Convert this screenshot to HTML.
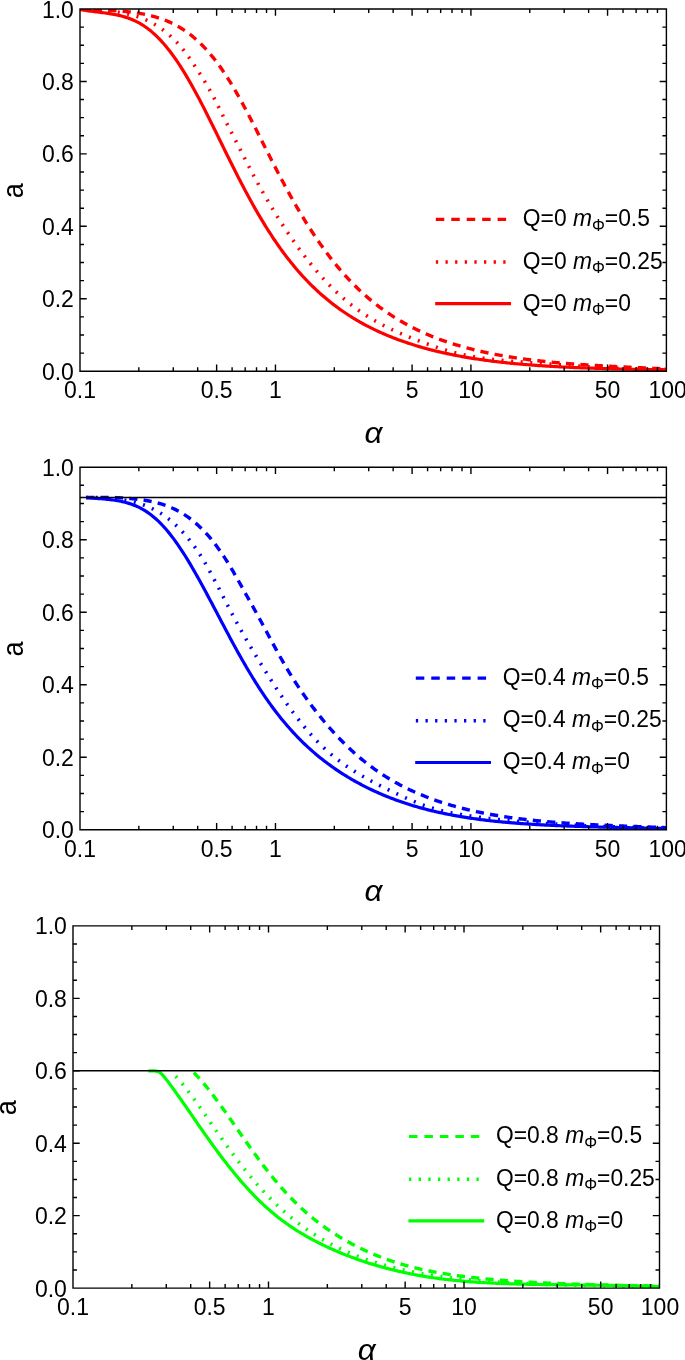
<!DOCTYPE html>
<html lang="en"><head><meta charset="utf-8"><title>a vs alpha</title>
<style>
html,body{margin:0;padding:0;background:#fff;}
body{width:685px;height:1360px;overflow:hidden;}
svg{display:block;filter:blur(0.35px);}
text{font-family:"Liberation Sans",sans-serif;fill:#000;}
</style></head><body>
<svg width="685" height="1360" viewBox="0 0 685 1360">
<rect width="685" height="1360" fill="#fff"/>
<clipPath id="c0"><rect x="80" y="9" width="586.4" height="362.2"/></clipPath>
<g fill="none" stroke="#ff0000" stroke-linejoin="round" clip-path="url(#c0)">
<path d="M79.5 9 L81 9.01 L82.5 9.05 L84 9.09 L85.5 9.14 L87 9.19 L88.5 9.24 L90 9.29 L91.5 9.34 L93 9.4 L94.5 9.45 L96 9.51 L97.5 9.57 L99 9.64 L100.5 9.71 L102 9.78 L103.5 9.85 L105 9.93 L106.5 10.01 L108 10.09 L109.5 10.18 L111 10.28 L112.5 10.37 L114 10.48 L115.5 10.59 L117 10.7 L118.5 10.82 L120 10.95 L121.5 11.08 L123 11.22 L124.5 11.37 L126 11.52 L127.5 11.69 L129 11.86 L130.5 12.04 L132 12.24 L133.5 12.44 L135 12.65 L136.5 12.88 L138 13.11 L139.5 13.36 L141 13.62 L142.5 13.9 L144 14.19 L145.5 14.5 L147 14.82 L148.5 15.16 L150 15.51 L151.5 15.88 L153 16.28 L154.5 16.69 L156 17.12 L157.5 17.57 L159 18.05 L160.5 18.55 L162 19.07 L163.5 19.62 L165 20.19 L166.5 20.79 L168 21.42 L169.5 22.07 L171 22.76 L172.5 23.47 L174 24.22 L175.5 25 L177 25.81 L178.5 26.65 L180 27.54 L181.5 28.45 L183 29.41 L184.5 30.4 L186 31.43 L187.5 32.5 L189 33.61 L190.5 34.76 L192 35.95 L193.5 37.19 L195 38.47 L196.5 39.79 L198 41.16 L199.5 42.57 L201 44.03 L202.5 45.53 L204 47.09 L205.5 48.68 L207 50.33 L208.5 52.02 L210 53.77 L211.5 55.56 L213 57.4 L214.5 59.29 L216 61.23 L217.5 63.23 L219 65.27 L220.5 67.36 L222 69.51 L223.5 71.7 L225 73.94 L226.5 76.24 L228 78.58 L229.5 80.97 L231 83.4 L232.5 85.89 L234 88.42 L235.5 90.99 L237 93.6 L238.5 96.25 L240 98.94 L241.5 101.66 L243 104.42 L244.5 107.2 L246 110.02 L247.5 112.86 L249 115.72 L250.5 118.61 L252 121.52 L253.5 124.44 L255 127.38 L256.5 130.32 L258 133.28 L259.5 136.25 L261 139.22 L262.5 142.2 L264 145.17 L265.5 148.14 L267 151.11 L268.5 154.08 L270 157.04 L271.5 159.99 L273 162.93 L274.5 165.86 L276 168.77 L277.5 171.67 L279 174.55 L280.5 177.41 L282 180.25 L283.5 183.06 L285 185.86 L286.5 188.63 L288 191.38 L289.5 194.11 L291 196.8 L292.5 199.48 L294 202.12 L295.5 204.74 L297 207.33 L298.5 209.9 L300 212.43 L301.5 214.94 L303 217.42 L304.5 219.88 L306 222.3 L307.5 224.7 L309 227.07 L310.5 229.41 L312 231.72 L313.5 234 L315 236.26 L316.5 238.49 L318 240.68 L319.5 242.85 L321 244.99 L322.5 247.1 L324 249.18 L325.5 251.23 L327 253.26 L328.5 255.25 L330 257.21 L331.5 259.15 L333 261.05 L334.5 262.93 L336 264.78 L337.5 266.6 L339 268.39 L340.5 270.15 L342 271.89 L343.5 273.59 L345 275.27 L346.5 276.93 L348 278.55 L349.5 280.15 L351 281.72 L352.5 283.27 L354 284.79 L355.5 286.29 L357 287.76 L358.5 289.2 L360 290.62 L361.5 292.02 L363 293.39 L364.5 294.74 L366 296.07 L367.5 297.37 L369 298.65 L370.5 299.91 L372 301.15 L373.5 302.36 L375 303.56 L376.5 304.73 L378 305.89 L379.5 307.02 L381 308.13 L382.5 309.23 L384 310.3 L385.5 311.36 L387 312.4 L388.5 313.42 L390 314.42 L391.5 315.41 L393 316.37 L394.5 317.32 L396 318.26 L397.5 319.18 L399 320.08 L400.5 320.96 L402 321.83 L403.5 322.69 L405 323.53 L406.5 324.35 L408 325.16 L409.5 325.96 L411 326.74 L412.5 327.51 L414 328.26 L415.5 329.01 L417 329.73 L418.5 330.45 L420 331.15 L421.5 331.84 L423 332.52 L424.5 333.19 L426 333.84 L427.5 334.48 L429 335.12 L430.5 335.74 L432 336.35 L433.5 336.95 L435 337.54 L436.5 338.11 L438 338.68 L439.5 339.24 L441 339.79 L442.5 340.33 L444 340.86 L445.5 341.38 L447 341.89 L448.5 342.4 L450 342.89 L451.5 343.38 L453 343.85 L454.5 344.32 L456 344.78 L457.5 345.24 L459 345.68 L460.5 346.12 L462 346.55 L463.5 346.97 L465 347.39 L466.5 347.79 L468 348.19 L469.5 348.59 L471 348.97 L472.5 349.35 L474 349.73 L475.5 350.09 L477 350.46 L478.5 350.81 L480 351.16 L481.5 351.5 L483 351.84 L484.5 352.17 L486 352.49 L487.5 352.81 L489 353.12 L490.5 353.43 L492 353.73 L493.5 354.03 L495 354.32 L496.5 354.6 L498 354.88 L499.5 355.16 L501 355.43 L502.5 355.7 L504 355.96 L505.5 356.21 L507 356.47 L508.5 356.71 L510 356.96 L511.5 357.19 L513 357.43 L514.5 357.66 L516 357.88 L517.5 358.1 L519 358.32 L520.5 358.54 L522 358.74 L523.5 358.95 L525 359.15 L526.5 359.35 L528 359.54 L529.5 359.74 L531 359.92 L532.5 360.11 L534 360.29 L535.5 360.46 L537 360.64 L538.5 360.81 L540 360.98 L541.5 361.14 L543 361.3 L544.5 361.46 L546 361.62 L547.5 361.77 L549 361.92 L550.5 362.07 L552 362.21 L553.5 362.35 L555 362.49 L556.5 362.63 L558 362.76 L559.5 362.89 L561 363.02 L562.5 363.15 L564 363.27 L565.5 363.4 L567 363.52 L568.5 363.64 L570 363.75 L571.5 363.87 L573 363.98 L574.5 364.09 L576 364.2 L577.5 364.31 L579 364.41 L580.5 364.51 L582 364.62 L583.5 364.72 L585 364.81 L586.5 364.91 L588 365.01 L589.5 365.1 L591 365.19 L592.5 365.29 L594 365.38 L595.5 365.47 L597 365.55 L598.5 365.64 L600 365.73 L601.5 365.81 L603 365.89 L604.5 365.98 L606 366.06 L607.5 366.14 L609 366.22 L610.5 366.3 L612 366.37 L613.5 366.45 L615 366.53 L616.5 366.6 L618 366.68 L619.5 366.75 L621 366.83 L622.5 366.9 L624 366.97 L625.5 367.05 L627 367.12 L628.5 367.19 L630 367.26 L631.5 367.33 L633 367.4 L634.5 367.47 L636 367.54 L637.5 367.61 L639 367.68 L640.5 367.75 L642 367.82 L643.5 367.89 L645 367.96 L646.5 368.02 L648 368.09 L649.5 368.16 L651 368.23 L652.5 368.3 L654 368.37 L655.5 368.43 L657 368.5 L658.5 368.57 L660 368.64 L661.5 368.71 L663 368.78 L664.5 368.85 L666 368.91 L666.4 368.93" stroke-width="3.4" stroke-dasharray="8.2 6.2"/>
<path d="M79.5 9.23 L81 9.28 L82.5 9.34 L84 9.39 L85.5 9.45 L87 9.52 L88.5 9.58 L90 9.65 L91.5 9.73 L93 9.81 L94.5 9.89 L96 9.98 L97.5 10.07 L99 10.17 L100.5 10.28 L102 10.39 L103.5 10.51 L105 10.64 L106.5 10.77 L108 10.92 L109.5 11.07 L111 11.24 L112.5 11.41 L114 11.6 L115.5 11.8 L117 12.01 L118.5 12.23 L120 12.47 L121.5 12.73 L123 13 L124.5 13.29 L126 13.6 L127.5 13.92 L129 14.27 L130.5 14.64 L132 15.03 L133.5 15.44 L135 15.88 L136.5 16.34 L138 16.83 L139.5 17.34 L141 17.89 L142.5 18.47 L144 19.07 L145.5 19.71 L147 20.38 L148.5 21.09 L150 21.83 L151.5 22.61 L153 23.43 L154.5 24.28 L156 25.18 L157.5 26.11 L159 27.09 L160.5 28.11 L162 29.18 L163.5 30.29 L165 31.44 L166.5 32.65 L168 33.9 L169.5 35.2 L171 36.55 L172.5 37.96 L174 39.42 L175.5 40.95 L177 42.53 L178.5 44.17 L180 45.88 L181.5 47.65 L183 49.49 L184.5 51.4 L186 53.37 L187.5 55.41 L189 57.5 L190.5 59.65 L192 61.83 L193.5 64.05 L195 66.29 L196.5 68.55 L198 70.83 L199.5 73.14 L201 75.47 L202.5 77.84 L204 80.26 L205.5 82.73 L207 85.26 L208.5 87.85 L210 90.52 L211.5 93.26 L213 96.07 L214.5 98.95 L216 101.89 L217.5 104.86 L219 107.85 L220.5 110.86 L222 113.87 L223.5 116.87 L225 119.84 L226.5 122.79 L228 125.72 L229.5 128.64 L231 131.55 L232.5 134.46 L234 137.37 L235.5 140.29 L237 143.21 L238.5 146.16 L240 149.12 L241.5 152.08 L243 155.04 L244.5 157.99 L246 160.93 L247.5 163.85 L249 166.74 L250.5 169.61 L252 172.46 L253.5 175.28 L255 178.08 L256.5 180.85 L258 183.59 L259.5 186.31 L261 189 L262.5 191.67 L264 194.31 L265.5 196.92 L267 199.5 L268.5 202.06 L270 204.59 L271.5 207.09 L273 209.57 L274.5 212.02 L276 214.44 L277.5 216.84 L279 219.22 L280.5 221.56 L282 223.89 L283.5 226.19 L285 228.46 L286.5 230.72 L288 232.95 L289.5 235.16 L291 237.35 L292.5 239.51 L294 241.66 L295.5 243.78 L297 245.88 L298.5 247.96 L300 250.01 L301.5 252.04 L303 254.04 L304.5 256.02 L306 257.97 L307.5 259.9 L309 261.81 L310.5 263.68 L312 265.53 L313.5 267.36 L315 269.16 L316.5 270.93 L318 272.67 L319.5 274.39 L321 276.09 L322.5 277.76 L324 279.4 L325.5 281.01 L327 282.6 L328.5 284.17 L330 285.71 L331.5 287.22 L333 288.71 L334.5 290.18 L336 291.62 L337.5 293.03 L339 294.42 L340.5 295.79 L342 297.13 L343.5 298.44 L345 299.73 L346.5 301 L348 302.24 L349.5 303.46 L351 304.66 L352.5 305.83 L354 306.97 L355.5 308.1 L357 309.2 L358.5 310.28 L360 311.33 L361.5 312.37 L363 313.38 L364.5 314.38 L366 315.35 L367.5 316.31 L369 317.24 L370.5 318.16 L372 319.06 L373.5 319.95 L375 320.81 L376.5 321.66 L378 322.5 L379.5 323.32 L381 324.12 L382.5 324.91 L384 325.69 L385.5 326.46 L387 327.21 L388.5 327.95 L390 328.67 L391.5 329.39 L393 330.09 L394.5 330.78 L396 331.47 L397.5 332.14 L399 332.81 L400.5 333.46 L402 334.11 L403.5 334.74 L405 335.37 L406.5 336 L408 336.61 L409.5 337.22 L411 337.82 L412.5 338.41 L414 339 L415.5 339.58 L417 340.16 L418.5 340.73 L420 341.3 L421.5 341.86 L423 342.41 L424.5 342.97 L426 343.51 L427.5 344.06 L429 344.59 L430.5 345.12 L432 345.64 L433.5 346.16 L435 346.67 L436.5 347.18 L438 347.67 L439.5 348.16 L441 348.64 L442.5 349.11 L444 349.58 L445.5 350.04 L447 350.48 L448.5 350.92 L450 351.35 L451.5 351.77 L453 352.18 L454.5 352.58 L456 352.97 L457.5 353.35 L459 353.72 L460.5 354.08 L462 354.42 L463.5 354.76 L465 355.08 L466.5 355.39 L468 355.7 L469.5 355.99 L471 356.27 L472.5 356.54 L474 356.8 L475.5 357.06 L477 357.3 L478.5 357.54 L480 357.77 L481.5 357.99 L483 358.2 L484.5 358.41 L486 358.61 L487.5 358.8 L489 358.98 L490.5 359.16 L492 359.34 L493.5 359.5 L495 359.67 L496.5 359.82 L498 359.98 L499.5 360.13 L501 360.27 L502.5 360.41 L504 360.55 L505.5 360.68 L507 360.81 L508.5 360.94 L510 361.06 L511.5 361.18 L513 361.31 L514.5 361.42 L516 361.54 L517.5 361.66 L519 361.77 L520.5 361.89 L522 362 L523.5 362.11 L525 362.23 L526.5 362.34 L528 362.45 L529.5 362.57 L531 362.68 L532.5 362.79 L534 362.91 L535.5 363.02 L537 363.13 L538.5 363.25 L540 363.36 L541.5 363.47 L543 363.58 L544.5 363.69 L546 363.81 L547.5 363.92 L549 364.03 L550.5 364.14 L552 364.25 L553.5 364.36 L555 364.47 L556.5 364.58 L558 364.69 L559.5 364.79 L561 364.9 L562.5 365.01 L564 365.12 L565.5 365.22 L567 365.33 L568.5 365.44 L570 365.54 L571.5 365.64 L573 365.75 L574.5 365.85 L576 365.95 L577.5 366.05 L579 366.15 L580.5 366.25 L582 366.35 L583.5 366.45 L585 366.55 L586.5 366.64 L588 366.74 L589.5 366.83 L591 366.92 L592.5 367.02 L594 367.11 L595.5 367.2 L597 367.29 L598.5 367.37 L600 367.46 L601.5 367.54 L603 367.63 L604.5 367.71 L606 367.79 L607.5 367.87 L609 367.94 L610.5 368.02 L612 368.09 L613.5 368.17 L615 368.24 L616.5 368.31 L618 368.37 L619.5 368.44 L621 368.5 L622.5 368.56 L624 368.62 L625.5 368.68 L627 368.74 L628.5 368.79 L630 368.84 L631.5 368.89 L633 368.94 L634.5 368.98 L636 369.02 L637.5 369.06 L639 369.1 L640.5 369.13 L642 369.17 L643.5 369.2 L645 369.22 L646.5 369.25 L648 369.27 L649.5 369.29 L651 369.31 L652.5 369.32 L654 369.33 L655.5 369.34 L657 369.34 L658.5 369.34 L660 369.34 L661.5 369.34 L663 369.34 L664.5 369.34 L666 369.34 L666.4 369.34" stroke-width="3.6" stroke-dasharray="2.0 7.6"/>
<path d="M79.5 9.39 L81 9.66 L82.5 9.92 L84 10.17 L85.5 10.4 L87 10.62 L88.5 10.84 L90 11.05 L91.5 11.25 L93 11.44 L94.5 11.63 L96 11.82 L97.5 12.01 L99 12.19 L100.5 12.38 L102 12.57 L103.5 12.77 L105 12.97 L106.5 13.18 L108 13.4 L109.5 13.63 L111 13.87 L112.5 14.12 L114 14.39 L115.5 14.68 L117 14.99 L118.5 15.32 L120 15.67 L121.5 16.05 L123 16.45 L124.5 16.88 L126 17.35 L127.5 17.84 L129 18.37 L130.5 18.93 L132 19.54 L133.5 20.18 L135 20.86 L136.5 21.59 L138 22.37 L139.5 23.19 L141 24.06 L142.5 24.98 L144 25.95 L145.5 26.97 L147 28.05 L148.5 29.18 L150 30.36 L151.5 31.59 L153 32.88 L154.5 34.23 L156 35.63 L157.5 37.09 L159 38.6 L160.5 40.18 L162 41.8 L163.5 43.49 L165 45.23 L166.5 47.03 L168 48.89 L169.5 50.8 L171 52.77 L172.5 54.79 L174 56.87 L175.5 59 L177 61.19 L178.5 63.43 L180 65.72 L181.5 68.06 L183 70.45 L184.5 72.88 L186 75.37 L187.5 77.9 L189 80.48 L190.5 83.1 L192 85.76 L193.5 88.45 L195 91.19 L196.5 93.96 L198 96.77 L199.5 99.61 L201 102.48 L202.5 105.37 L204 108.29 L205.5 111.24 L207 114.21 L208.5 117.19 L210 120.19 L211.5 123.21 L213 126.24 L214.5 129.28 L216 132.33 L217.5 135.38 L219 138.44 L220.5 141.5 L222 144.56 L223.5 147.62 L225 150.67 L226.5 153.72 L228 156.75 L229.5 159.78 L231 162.8 L232.5 165.81 L234 168.8 L235.5 171.77 L237 174.72 L238.5 177.66 L240 180.58 L241.5 183.47 L243 186.34 L244.5 189.19 L246 192.01 L247.5 194.81 L249 197.58 L250.5 200.32 L252 203.04 L253.5 205.72 L255 208.38 L256.5 211 L258 213.59 L259.5 216.16 L261 218.69 L262.5 221.19 L264 223.65 L265.5 226.09 L267 228.49 L268.5 230.86 L270 233.19 L271.5 235.49 L273 237.76 L274.5 240 L276 242.21 L277.5 244.38 L279 246.51 L280.5 248.62 L282 250.69 L283.5 252.73 L285 254.74 L286.5 256.72 L288 258.67 L289.5 260.58 L291 262.46 L292.5 264.32 L294 266.14 L295.5 267.93 L297 269.7 L298.5 271.43 L300 273.14 L301.5 274.81 L303 276.46 L304.5 278.08 L306 279.68 L307.5 281.24 L309 282.78 L310.5 284.3 L312 285.78 L313.5 287.25 L315 288.68 L316.5 290.1 L318 291.49 L319.5 292.85 L321 294.19 L322.5 295.51 L324 296.81 L325.5 298.08 L327 299.33 L328.5 300.56 L330 301.77 L331.5 302.96 L333 304.13 L334.5 305.28 L336 306.4 L337.5 307.51 L339 308.6 L340.5 309.68 L342 310.73 L343.5 311.76 L345 312.78 L346.5 313.78 L348 314.76 L349.5 315.73 L351 316.68 L352.5 317.62 L354 318.53 L355.5 319.44 L357 320.32 L358.5 321.2 L360 322.05 L361.5 322.9 L363 323.73 L364.5 324.54 L366 325.34 L367.5 326.13 L369 326.91 L370.5 327.67 L372 328.42 L373.5 329.15 L375 329.88 L376.5 330.59 L378 331.29 L379.5 331.98 L381 332.66 L382.5 333.33 L384 333.98 L385.5 334.63 L387 335.26 L388.5 335.88 L390 336.5 L391.5 337.1 L393 337.69 L394.5 338.27 L396 338.85 L397.5 339.41 L399 339.97 L400.5 340.51 L402 341.05 L403.5 341.58 L405 342.1 L406.5 342.61 L408 343.11 L409.5 343.6 L411 344.09 L412.5 344.57 L414 345.04 L415.5 345.5 L417 345.95 L418.5 346.4 L420 346.84 L421.5 347.27 L423 347.7 L424.5 348.11 L426 348.52 L427.5 348.93 L429 349.33 L430.5 349.72 L432 350.1 L433.5 350.48 L435 350.85 L436.5 351.22 L438 351.57 L439.5 351.93 L441 352.27 L442.5 352.62 L444 352.95 L445.5 353.28 L447 353.61 L448.5 353.92 L450 354.24 L451.5 354.55 L453 354.85 L454.5 355.15 L456 355.44 L457.5 355.72 L459 356.01 L460.5 356.28 L462 356.56 L463.5 356.83 L465 357.09 L466.5 357.35 L468 357.6 L469.5 357.85 L471 358.1 L472.5 358.34 L474 358.57 L475.5 358.81 L477 359.04 L478.5 359.26 L480 359.48 L481.5 359.7 L483 359.91 L484.5 360.12 L486 360.32 L487.5 360.52 L489 360.72 L490.5 360.92 L492 361.11 L493.5 361.29 L495 361.48 L496.5 361.66 L498 361.83 L499.5 362.01 L501 362.18 L502.5 362.35 L504 362.51 L505.5 362.67 L507 362.83 L508.5 362.99 L510 363.14 L511.5 363.29 L513 363.43 L514.5 363.58 L516 363.72 L517.5 363.86 L519 363.99 L520.5 364.13 L522 364.26 L523.5 364.39 L525 364.51 L526.5 364.64 L528 364.76 L529.5 364.88 L531 364.99 L532.5 365.11 L534 365.22 L535.5 365.33 L537 365.44 L538.5 365.54 L540 365.65 L541.5 365.75 L543 365.85 L544.5 365.95 L546 366.04 L547.5 366.14 L549 366.23 L550.5 366.32 L552 366.41 L553.5 366.49 L555 366.58 L556.5 366.66 L558 366.74 L559.5 366.82 L561 366.9 L562.5 366.98 L564 367.05 L565.5 367.13 L567 367.2 L568.5 367.27 L570 367.34 L571.5 367.41 L573 367.47 L574.5 367.54 L576 367.6 L577.5 367.66 L579 367.73 L580.5 367.79 L582 367.85 L583.5 367.9 L585 367.96 L586.5 368.01 L588 368.07 L589.5 368.12 L591 368.17 L592.5 368.22 L594 368.27 L595.5 368.32 L597 368.37 L598.5 368.42 L600 368.46 L601.5 368.51 L603 368.55 L604.5 368.6 L606 368.64 L607.5 368.68 L609 368.72 L610.5 368.76 L612 368.8 L613.5 368.83 L615 368.87 L616.5 368.91 L618 368.94 L619.5 368.98 L621 369.01 L622.5 369.05 L624 369.08 L625.5 369.11 L627 369.14 L628.5 369.17 L630 369.2 L631.5 369.23 L633 369.26 L634.5 369.29 L636 369.31 L637.5 369.34 L639 369.37 L640.5 369.39 L642 369.42 L643.5 369.44 L645 369.46 L646.5 369.49 L648 369.51 L649.5 369.53 L651 369.55 L652.5 369.58 L654 369.6 L655.5 369.62 L657 369.64 L658.5 369.65 L660 369.67 L661.5 369.69 L663 369.71 L664.5 369.73 L666 369.74 L666.4 369.75" stroke-width="3.2"/>
</g>
<path d="M80 9H666.4V371.2H80ZM80 371.2h6.7M666.4 371.2h-6.7M80 353.09h4M666.4 353.09h-4M80 334.98h4M666.4 334.98h-4M80 316.87h4M666.4 316.87h-4M80 298.76h6.7M666.4 298.76h-6.7M80 280.65h4M666.4 280.65h-4M80 262.54h4M666.4 262.54h-4M80 244.43h4M666.4 244.43h-4M80 226.32h6.7M666.4 226.32h-6.7M80 208.21h4M666.4 208.21h-4M80 190.1h4M666.4 190.1h-4M80 171.99h4M666.4 171.99h-4M80 153.88h6.7M666.4 153.88h-6.7M80 135.77h4M666.4 135.77h-4M80 117.66h4M666.4 117.66h-4M80 99.55h4M666.4 99.55h-4M80 81.44h6.7M666.4 81.44h-6.7M80 63.33h4M666.4 63.33h-4M80 45.22h4M666.4 45.22h-4M80 27.11h4M666.4 27.11h-4M80 9h6.7M666.4 9h-6.7M80 371.2v-6.7M80 9v6.7M138.84 371.2v-4M138.84 9v4M173.26 371.2v-4M173.26 9v4M197.68 371.2v-4M197.68 9v4M216.63 371.2v-6.7M216.63 9v6.7M232.1 371.2v-4M232.1 9v4M245.19 371.2v-4M245.19 9v4M256.52 371.2v-4M256.52 9v4M266.52 371.2v-4M266.52 9v4M275.47 371.2v-6.7M275.47 9v6.7M334.31 371.2v-4M334.31 9v4M368.73 371.2v-4M368.73 9v4M393.15 371.2v-4M393.15 9v4M412.09 371.2v-6.7M412.09 9v6.7M427.57 371.2v-4M427.57 9v4M440.66 371.2v-4M440.66 9v4M451.99 371.2v-4M451.99 9v4M461.99 371.2v-4M461.99 9v4M470.93 371.2v-6.7M470.93 9v6.7M529.77 371.2v-4M529.77 9v4M564.19 371.2v-4M564.19 9v4M588.62 371.2v-4M588.62 9v4M607.56 371.2v-6.7M607.56 9v6.7M623.04 371.2v-4M623.04 9v4M636.12 371.2v-4M636.12 9v4M647.46 371.2v-4M647.46 9v4M657.46 371.2v-4M657.46 9v4" fill="none" stroke="#000" stroke-width="1.4"/>
<text transform="translate(73.9 379.7) scale(0.975 1)" text-anchor="end" font-size="23.6">0.0</text>
<text transform="translate(73.9 307.26) scale(0.975 1)" text-anchor="end" font-size="23.6">0.2</text>
<text transform="translate(73.9 234.82) scale(0.975 1)" text-anchor="end" font-size="23.6">0.4</text>
<text transform="translate(73.9 162.38) scale(0.975 1)" text-anchor="end" font-size="23.6">0.6</text>
<text transform="translate(73.9 89.94) scale(0.975 1)" text-anchor="end" font-size="23.6">0.8</text>
<text transform="translate(73.9 17.5) scale(0.975 1)" text-anchor="end" font-size="23.6">1.0</text>
<text transform="translate(80 398.2) scale(0.975 1)" text-anchor="middle" font-size="23.6">0.1</text>
<text transform="translate(216.63 398.2) scale(0.975 1)" text-anchor="middle" font-size="23.6">0.5</text>
<text transform="translate(275.47 398.2) scale(0.975 1)" text-anchor="middle" font-size="23.6">1</text>
<text transform="translate(412.09 398.2) scale(0.975 1)" text-anchor="middle" font-size="23.6">5</text>
<text transform="translate(470.93 398.2) scale(0.975 1)" text-anchor="middle" font-size="23.6">10</text>
<text transform="translate(607.56 398.2) scale(0.975 1)" text-anchor="middle" font-size="23.6">50</text>
<text transform="translate(667.6 398.2) scale(0.975 1)" text-anchor="middle" font-size="23.6">100</text>
<text transform="translate(22.6 190.7) rotate(-90) scale(0.9 1)" text-anchor="middle" font-size="30.2">a</text>
<text transform="translate(373.6 442.7) scale(1.05 1)" text-anchor="middle" font-size="30" font-style="italic">α</text>
<line x1="435.8" y1="219.3" x2="506.3" y2="219.3" stroke="#ff0000" stroke-width="3.2" stroke-dasharray="8.5 6.95"/>
<text transform="translate(522.8 225.9) scale(0.972 1)" text-anchor="start" font-size="23.5">Q=0 <tspan font-style="italic">m</tspan><tspan font-size="16.6" dy="4.6">Φ</tspan><tspan dy="-4.6">=0.5</tspan></text>
<line x1="435.85" y1="262" x2="507.8" y2="262" stroke="#ff0000" stroke-width="3.5" stroke-dasharray="2.3 7.33"/>
<text transform="translate(522.8 268.5) scale(0.972 1)" text-anchor="start" font-size="23.5">Q=0 <tspan font-style="italic">m</tspan><tspan font-size="16.6" dy="4.6">Φ</tspan><tspan dy="-4.6">=0.25</tspan></text>
<line x1="435.2" y1="303.7" x2="511" y2="303.7" stroke="#ff0000" stroke-width="3.2"/>
<text transform="translate(522.8 310.5) scale(0.972 1)" text-anchor="start" font-size="23.5">Q=0 <tspan font-style="italic">m</tspan><tspan font-size="16.6" dy="4.6">Φ</tspan><tspan dy="-4.6">=0</tspan></text>
<clipPath id="c04"><rect x="80" y="467.2" width="586.4" height="362.5"/></clipPath>
<g fill="none" stroke="#0000ff" stroke-linejoin="round" clip-path="url(#c04)">
<path d="M86.1 497.47 L87.6 497.47 L89.1 497.47 L90.6 497.47 L92.1 497.47 L93.6 497.47 L95.1 497.47 L96.6 497.47 L98.1 497.47 L99.6 497.47 L101.1 497.47 L102.6 497.47 L104.1 497.47 L105.6 497.47 L107.1 497.47 L108.6 497.47 L110.1 497.47 L111.6 497.47 L113.1 497.49 L114.6 497.55 L116.1 497.61 L117.6 497.68 L119.1 497.75 L120.6 497.83 L122.1 497.91 L123.6 498 L125.1 498.1 L126.6 498.21 L128.1 498.32 L129.6 498.44 L131.1 498.57 L132.6 498.71 L134.1 498.86 L135.6 499.02 L137.1 499.19 L138.6 499.37 L140.1 499.56 L141.6 499.76 L143.1 499.98 L144.6 500.21 L146.1 500.46 L147.6 500.72 L149.1 501 L150.6 501.3 L152.1 501.61 L153.6 501.95 L155.1 502.3 L156.6 502.67 L158.1 503.07 L159.6 503.49 L161.1 503.93 L162.6 504.4 L164.1 504.89 L165.6 505.41 L167.1 505.96 L168.6 506.53 L170.1 507.14 L171.6 507.78 L173.1 508.45 L174.6 509.15 L176.1 509.89 L177.6 510.67 L179.1 511.48 L180.6 512.32 L182.1 513.21 L183.6 514.14 L185.1 515.1 L186.6 516.11 L188.1 517.16 L189.6 518.25 L191.1 519.39 L192.6 520.57 L194.1 521.79 L195.6 523.06 L197.1 524.38 L198.6 525.75 L200.1 527.16 L201.6 528.62 L203.1 530.13 L204.6 531.69 L206.1 533.31 L207.6 534.98 L209.1 536.7 L210.6 538.47 L212.1 540.3 L213.6 542.18 L215.1 544.11 L216.6 546.1 L218.1 548.15 L219.6 550.24 L221.1 552.39 L222.6 554.6 L224.1 556.85 L225.6 559.16 L227.1 561.52 L228.6 563.94 L230.1 566.4 L231.6 568.91 L233.1 571.46 L234.6 574.05 L236.1 576.68 L237.6 579.33 L239.1 582 L240.6 584.68 L242.1 587.38 L243.6 590.08 L245.1 592.77 L246.6 595.46 L248.1 598.13 L249.6 600.8 L251.1 603.47 L252.6 606.14 L254.1 608.83 L255.6 611.52 L257.1 614.24 L258.6 616.97 L260.1 619.73 L261.6 622.51 L263.1 625.3 L264.6 628.1 L266.1 630.91 L267.6 633.71 L269.1 636.52 L270.6 639.32 L272.1 642.12 L273.6 644.9 L275.1 647.67 L276.6 650.42 L278.1 653.14 L279.6 655.85 L281.1 658.52 L282.6 661.16 L284.1 663.77 L285.6 666.35 L287.1 668.88 L288.6 671.38 L290.1 673.85 L291.6 676.28 L293.1 678.67 L294.6 681.03 L296.1 683.36 L297.6 685.65 L299.1 687.91 L300.6 690.14 L302.1 692.33 L303.6 694.5 L305.1 696.64 L306.6 698.75 L308.1 700.83 L309.6 702.88 L311.1 704.91 L312.6 706.91 L314.1 708.89 L315.6 710.84 L317.1 712.77 L318.6 714.67 L320.1 716.55 L321.6 718.4 L323.1 720.23 L324.6 722.03 L326.1 723.81 L327.6 725.57 L329.1 727.3 L330.6 729 L332.1 730.69 L333.6 732.35 L335.1 733.98 L336.6 735.59 L338.1 737.18 L339.6 738.74 L341.1 740.29 L342.6 741.8 L344.1 743.3 L345.6 744.78 L347.1 746.23 L348.6 747.66 L350.1 749.07 L351.6 750.45 L353.1 751.82 L354.6 753.16 L356.1 754.49 L357.6 755.79 L359.1 757.07 L360.6 758.34 L362.1 759.58 L363.6 760.8 L365.1 762 L366.6 763.19 L368.1 764.35 L369.6 765.5 L371.1 766.62 L372.6 767.73 L374.1 768.82 L375.6 769.89 L377.1 770.94 L378.6 771.97 L380.1 772.99 L381.6 773.99 L383.1 774.97 L384.6 775.93 L386.1 776.87 L387.6 777.8 L389.1 778.71 L390.6 779.61 L392.1 780.49 L393.6 781.36 L395.1 782.2 L396.6 783.04 L398.1 783.86 L399.6 784.66 L401.1 785.45 L402.6 786.23 L404.1 787 L405.6 787.75 L407.1 788.48 L408.6 789.21 L410.1 789.92 L411.6 790.62 L413.1 791.31 L414.6 791.98 L416.1 792.65 L417.6 793.3 L419.1 793.94 L420.6 794.57 L422.1 795.19 L423.6 795.8 L425.1 796.4 L426.6 796.99 L428.1 797.57 L429.6 798.13 L431.1 798.69 L432.6 799.24 L434.1 799.78 L435.6 800.31 L437.1 800.83 L438.6 801.34 L440.1 801.84 L441.6 802.33 L443.1 802.82 L444.6 803.29 L446.1 803.76 L447.6 804.22 L449.1 804.67 L450.6 805.12 L452.1 805.55 L453.6 805.98 L455.1 806.4 L456.6 806.81 L458.1 807.22 L459.6 807.62 L461.1 808.01 L462.6 808.39 L464.1 808.77 L465.6 809.14 L467.1 809.5 L468.6 809.86 L470.1 810.21 L471.6 810.55 L473.1 810.89 L474.6 811.22 L476.1 811.55 L477.6 811.87 L479.1 812.18 L480.6 812.49 L482.1 812.79 L483.6 813.09 L485.1 813.38 L486.6 813.67 L488.1 813.95 L489.6 814.22 L491.1 814.49 L492.6 814.76 L494.1 815.02 L495.6 815.27 L497.1 815.53 L498.6 815.77 L500.1 816.01 L501.6 816.25 L503.1 816.48 L504.6 816.71 L506.1 816.93 L507.6 817.15 L509.1 817.37 L510.6 817.58 L512.1 817.78 L513.6 817.99 L515.1 818.19 L516.6 818.38 L518.1 818.57 L519.6 818.76 L521.1 818.94 L522.6 819.13 L524.1 819.3 L525.6 819.48 L527.1 819.65 L528.6 819.81 L530.1 819.98 L531.6 820.14 L533.1 820.3 L534.6 820.45 L536.1 820.6 L537.6 820.75 L539.1 820.9 L540.6 821.04 L542.1 821.18 L543.6 821.32 L545.1 821.45 L546.6 821.58 L548.1 821.71 L549.6 821.84 L551.1 821.97 L552.6 822.09 L554.1 822.21 L555.6 822.33 L557.1 822.44 L558.6 822.56 L560.1 822.67 L561.6 822.78 L563.1 822.89 L564.6 822.99 L566.1 823.1 L567.6 823.2 L569.1 823.3 L570.6 823.4 L572.1 823.49 L573.6 823.59 L575.1 823.68 L576.6 823.77 L578.1 823.86 L579.6 823.95 L581.1 824.04 L582.6 824.12 L584.1 824.21 L585.6 824.29 L587.1 824.37 L588.6 824.45 L590.1 824.53 L591.6 824.61 L593.1 824.69 L594.6 824.76 L596.1 824.84 L597.6 824.91 L599.1 824.98 L600.6 825.05 L602.1 825.12 L603.6 825.19 L605.1 825.26 L606.6 825.33 L608.1 825.4 L609.6 825.46 L611.1 825.53 L612.6 825.59 L614.1 825.66 L615.6 825.72 L617.1 825.78 L618.6 825.85 L620.1 825.91 L621.6 825.97 L623.1 826.03 L624.6 826.09 L626.1 826.15 L627.6 826.21 L629.1 826.27 L630.6 826.33 L632.1 826.39 L633.6 826.44 L635.1 826.5 L636.6 826.56 L638.1 826.62 L639.6 826.67 L641.1 826.73 L642.6 826.78 L644.1 826.84 L645.6 826.9 L647.1 826.95 L648.6 827.01 L650.1 827.06 L651.6 827.12 L653.1 827.18 L654.6 827.23 L656.1 827.29 L657.6 827.34 L659.1 827.4 L660.6 827.45 L662.1 827.51 L663.6 827.57 L665.1 827.62 L666.4 827.67" stroke-width="3.4" stroke-dasharray="8.2 6.2"/>
<path d="M86.1 497.47 L87.6 497.47 L89.1 497.47 L90.6 497.47 L92.1 497.47 L93.6 497.47 L95.1 497.47 L96.6 497.51 L98.1 497.57 L99.6 497.63 L101.1 497.7 L102.6 497.78 L104.1 497.86 L105.6 497.96 L107.1 498.06 L108.6 498.17 L110.1 498.29 L111.6 498.43 L113.1 498.57 L114.6 498.73 L116.1 498.89 L117.6 499.07 L119.1 499.26 L120.6 499.47 L122.1 499.69 L123.6 499.92 L125.1 500.17 L126.6 500.44 L128.1 500.73 L129.6 501.03 L131.1 501.35 L132.6 501.7 L134.1 502.06 L135.6 502.45 L137.1 502.86 L138.6 503.3 L140.1 503.76 L141.6 504.25 L143.1 504.76 L144.6 505.31 L146.1 505.88 L147.6 506.49 L149.1 507.13 L150.6 507.8 L152.1 508.51 L153.6 509.25 L155.1 510.04 L156.6 510.85 L158.1 511.71 L159.6 512.61 L161.1 513.55 L162.6 514.54 L164.1 515.56 L165.6 516.64 L167.1 517.75 L168.6 518.91 L170.1 520.12 L171.6 521.38 L173.1 522.68 L174.6 524.03 L176.1 525.43 L177.6 526.88 L179.1 528.37 L180.6 529.92 L182.1 531.51 L183.6 533.15 L185.1 534.84 L186.6 536.57 L188.1 538.36 L189.6 540.19 L191.1 542.07 L192.6 544.01 L194.1 546.02 L195.6 548.1 L197.1 550.25 L198.6 552.47 L200.1 554.78 L201.6 557.17 L203.1 559.63 L204.6 562.15 L206.1 564.74 L207.6 567.38 L209.1 570.06 L210.6 572.79 L212.1 575.55 L213.6 578.34 L215.1 581.16 L216.6 584.01 L218.1 586.88 L219.6 589.76 L221.1 592.65 L222.6 595.56 L224.1 598.46 L225.6 601.37 L227.1 604.27 L228.6 607.16 L230.1 610.05 L231.6 612.91 L233.1 615.75 L234.6 618.57 L236.1 621.36 L237.6 624.12 L239.1 626.85 L240.6 629.55 L242.1 632.22 L243.6 634.86 L245.1 637.48 L246.6 640.08 L248.1 642.65 L249.6 645.2 L251.1 647.73 L252.6 650.24 L254.1 652.74 L255.6 655.22 L257.1 657.69 L258.6 660.15 L260.1 662.6 L261.6 665.04 L263.1 667.47 L264.6 669.89 L266.1 672.3 L267.6 674.69 L269.1 677.07 L270.6 679.44 L272.1 681.79 L273.6 684.12 L275.1 686.43 L276.6 688.72 L278.1 690.99 L279.6 693.24 L281.1 695.47 L282.6 697.68 L284.1 699.86 L285.6 702.02 L287.1 704.16 L288.6 706.27 L290.1 708.36 L291.6 710.42 L293.1 712.46 L294.6 714.47 L296.1 716.45 L297.6 718.4 L299.1 720.33 L300.6 722.23 L302.1 724.1 L303.6 725.94 L305.1 727.76 L306.6 729.54 L308.1 731.29 L309.6 733.02 L311.1 734.71 L312.6 736.38 L314.1 738.01 L315.6 739.61 L317.1 741.18 L318.6 742.72 L320.1 744.22 L321.6 745.7 L323.1 747.14 L324.6 748.55 L326.1 749.93 L327.6 751.28 L329.1 752.6 L330.6 753.9 L332.1 755.16 L333.6 756.4 L335.1 757.61 L336.6 758.8 L338.1 759.97 L339.6 761.11 L341.1 762.22 L342.6 763.32 L344.1 764.39 L345.6 765.45 L347.1 766.48 L348.6 767.5 L350.1 768.5 L351.6 769.48 L353.1 770.44 L354.6 771.39 L356.1 772.32 L357.6 773.24 L359.1 774.14 L360.6 775.03 L362.1 775.91 L363.6 776.78 L365.1 777.64 L366.6 778.48 L368.1 779.32 L369.6 780.14 L371.1 780.96 L372.6 781.76 L374.1 782.56 L375.6 783.35 L377.1 784.13 L378.6 784.9 L380.1 785.67 L381.6 786.43 L383.1 787.18 L384.6 787.92 L386.1 788.66 L387.6 789.4 L389.1 790.13 L390.6 790.85 L392.1 791.57 L393.6 792.28 L395.1 792.99 L396.6 793.7 L398.1 794.4 L399.6 795.1 L401.1 795.79 L402.6 796.48 L404.1 797.16 L405.6 797.83 L407.1 798.5 L408.6 799.16 L410.1 799.81 L411.6 800.45 L413.1 801.08 L414.6 801.7 L416.1 802.31 L417.6 802.91 L419.1 803.5 L420.6 804.08 L422.1 804.65 L423.6 805.2 L425.1 805.74 L426.6 806.26 L428.1 806.77 L429.6 807.27 L431.1 807.75 L432.6 808.21 L434.1 808.66 L435.6 809.09 L437.1 809.51 L438.6 809.91 L440.1 810.31 L441.6 810.68 L443.1 811.05 L444.6 811.4 L446.1 811.74 L447.6 812.07 L449.1 812.39 L450.6 812.7 L452.1 813 L453.6 813.28 L455.1 813.56 L456.6 813.84 L458.1 814.1 L459.6 814.36 L461.1 814.6 L462.6 814.85 L464.1 815.08 L465.6 815.31 L467.1 815.54 L468.6 815.76 L470.1 815.97 L471.6 816.19 L473.1 816.4 L474.6 816.6 L476.1 816.8 L477.6 817 L479.1 817.2 L480.6 817.39 L482.1 817.58 L483.6 817.76 L485.1 817.95 L486.6 818.13 L488.1 818.31 L489.6 818.48 L491.1 818.65 L492.6 818.82 L494.1 818.99 L495.6 819.15 L497.1 819.32 L498.6 819.47 L500.1 819.63 L501.6 819.79 L503.1 819.94 L504.6 820.09 L506.1 820.24 L507.6 820.38 L509.1 820.52 L510.6 820.66 L512.1 820.8 L513.6 820.94 L515.1 821.07 L516.6 821.21 L518.1 821.34 L519.6 821.47 L521.1 821.59 L522.6 821.72 L524.1 821.84 L525.6 821.96 L527.1 822.08 L528.6 822.2 L530.1 822.32 L531.6 822.43 L533.1 822.55 L534.6 822.66 L536.1 822.77 L537.6 822.88 L539.1 822.99 L540.6 823.09 L542.1 823.2 L543.6 823.3 L545.1 823.4 L546.6 823.5 L548.1 823.6 L549.6 823.7 L551.1 823.79 L552.6 823.89 L554.1 823.98 L555.6 824.07 L557.1 824.17 L558.6 824.26 L560.1 824.35 L561.6 824.43 L563.1 824.52 L564.6 824.61 L566.1 824.69 L567.6 824.77 L569.1 824.86 L570.6 824.94 L572.1 825.02 L573.6 825.1 L575.1 825.18 L576.6 825.25 L578.1 825.33 L579.6 825.41 L581.1 825.48 L582.6 825.55 L584.1 825.63 L585.6 825.7 L587.1 825.77 L588.6 825.84 L590.1 825.91 L591.6 825.98 L593.1 826.04 L594.6 826.11 L596.1 826.17 L597.6 826.24 L599.1 826.3 L600.6 826.36 L602.1 826.43 L603.6 826.49 L605.1 826.55 L606.6 826.61 L608.1 826.66 L609.6 826.72 L611.1 826.78 L612.6 826.83 L614.1 826.89 L615.6 826.94 L617.1 827 L618.6 827.05 L620.1 827.1 L621.6 827.15 L623.1 827.2 L624.6 827.25 L626.1 827.29 L627.6 827.34 L629.1 827.39 L630.6 827.43 L632.1 827.47 L633.6 827.52 L635.1 827.56 L636.6 827.6 L638.1 827.64 L639.6 827.68 L641.1 827.72 L642.6 827.75 L644.1 827.79 L645.6 827.82 L647.1 827.86 L648.6 827.89 L650.1 827.92 L651.6 827.95 L653.1 827.98 L654.6 828.01 L656.1 828.04 L657.6 828.06 L659.1 828.09 L660.6 828.11 L662.1 828.13 L663.6 828.15 L665.1 828.17 L666.4 828.19" stroke-width="3.6" stroke-dasharray="2.0 7.6"/>
<path d="M86.1 497.64 L87.6 497.76 L89.1 497.87 L90.6 497.99 L92.1 498.1 L93.6 498.21 L95.1 498.32 L96.6 498.43 L98.1 498.54 L99.6 498.66 L101.1 498.78 L102.6 498.9 L104.1 499.03 L105.6 499.17 L107.1 499.32 L108.6 499.48 L110.1 499.65 L111.6 499.83 L113.1 500.03 L114.6 500.24 L116.1 500.47 L117.6 500.72 L119.1 500.99 L120.6 501.29 L122.1 501.6 L123.6 501.94 L125.1 502.31 L126.6 502.71 L128.1 503.14 L129.6 503.61 L131.1 504.1 L132.6 504.64 L134.1 505.21 L135.6 505.82 L137.1 506.48 L138.6 507.17 L140.1 507.92 L141.6 508.71 L143.1 509.55 L144.6 510.45 L146.1 511.39 L147.6 512.39 L149.1 513.44 L150.6 514.55 L152.1 515.72 L153.6 516.94 L155.1 518.22 L156.6 519.55 L158.1 520.95 L159.6 522.4 L161.1 523.92 L162.6 525.49 L164.1 527.12 L165.6 528.81 L167.1 530.55 L168.6 532.36 L170.1 534.22 L171.6 536.14 L173.1 538.11 L174.6 540.14 L176.1 542.22 L177.6 544.36 L179.1 546.54 L180.6 548.78 L182.1 551.06 L183.6 553.39 L185.1 555.77 L186.6 558.18 L188.1 560.64 L189.6 563.14 L191.1 565.68 L192.6 568.25 L194.1 570.85 L195.6 573.48 L197.1 576.14 L198.6 578.83 L200.1 581.54 L201.6 584.27 L203.1 587.02 L204.6 589.79 L206.1 592.57 L207.6 595.37 L209.1 598.18 L210.6 601.01 L212.1 603.84 L213.6 606.68 L215.1 609.52 L216.6 612.37 L218.1 615.22 L219.6 618.07 L221.1 620.92 L222.6 623.76 L224.1 626.6 L225.6 629.44 L227.1 632.26 L228.6 635.07 L230.1 637.88 L231.6 640.67 L233.1 643.44 L234.6 646.19 L236.1 648.93 L237.6 651.65 L239.1 654.35 L240.6 657.02 L242.1 659.67 L243.6 662.3 L245.1 664.9 L246.6 667.48 L248.1 670.02 L249.6 672.55 L251.1 675.04 L252.6 677.5 L254.1 679.94 L255.6 682.34 L257.1 684.72 L258.6 687.06 L260.1 689.37 L261.6 691.65 L263.1 693.9 L264.6 696.12 L266.1 698.3 L267.6 700.46 L269.1 702.58 L270.6 704.67 L272.1 706.72 L273.6 708.75 L275.1 710.74 L276.6 712.71 L278.1 714.64 L279.6 716.54 L281.1 718.41 L282.6 720.25 L284.1 722.06 L285.6 723.84 L287.1 725.59 L288.6 727.32 L290.1 729.01 L291.6 730.68 L293.1 732.32 L294.6 733.94 L296.1 735.52 L297.6 737.09 L299.1 738.62 L300.6 740.13 L302.1 741.62 L303.6 743.08 L305.1 744.52 L306.6 745.93 L308.1 747.32 L309.6 748.69 L311.1 750.03 L312.6 751.36 L314.1 752.66 L315.6 753.94 L317.1 755.2 L318.6 756.44 L320.1 757.66 L321.6 758.86 L323.1 760.04 L324.6 761.2 L326.1 762.34 L327.6 763.47 L329.1 764.57 L330.6 765.66 L332.1 766.73 L333.6 767.79 L335.1 768.83 L336.6 769.85 L338.1 770.86 L339.6 771.85 L341.1 772.83 L342.6 773.79 L344.1 774.74 L345.6 775.67 L347.1 776.59 L348.6 777.5 L350.1 778.39 L351.6 779.27 L353.1 780.14 L354.6 780.99 L356.1 781.83 L357.6 782.65 L359.1 783.47 L360.6 784.27 L362.1 785.06 L363.6 785.84 L365.1 786.6 L366.6 787.36 L368.1 788.1 L369.6 788.83 L371.1 789.55 L372.6 790.26 L374.1 790.96 L375.6 791.65 L377.1 792.32 L378.6 792.99 L380.1 793.65 L381.6 794.29 L383.1 794.93 L384.6 795.55 L386.1 796.17 L387.6 796.78 L389.1 797.37 L390.6 797.96 L392.1 798.54 L393.6 799.1 L395.1 799.66 L396.6 800.21 L398.1 800.75 L399.6 801.29 L401.1 801.81 L402.6 802.32 L404.1 802.83 L405.6 803.33 L407.1 803.82 L408.6 804.3 L410.1 804.77 L411.6 805.24 L413.1 805.69 L414.6 806.14 L416.1 806.58 L417.6 807.01 L419.1 807.44 L420.6 807.86 L422.1 808.27 L423.6 808.67 L425.1 809.07 L426.6 809.46 L428.1 809.84 L429.6 810.21 L431.1 810.58 L432.6 810.95 L434.1 811.3 L435.6 811.65 L437.1 811.99 L438.6 812.33 L440.1 812.66 L441.6 812.98 L443.1 813.3 L444.6 813.61 L446.1 813.92 L447.6 814.22 L449.1 814.51 L450.6 814.8 L452.1 815.09 L453.6 815.37 L455.1 815.64 L456.6 815.91 L458.1 816.17 L459.6 816.43 L461.1 816.68 L462.6 816.93 L464.1 817.17 L465.6 817.41 L467.1 817.64 L468.6 817.87 L470.1 818.1 L471.6 818.32 L473.1 818.53 L474.6 818.74 L476.1 818.95 L477.6 819.15 L479.1 819.35 L480.6 819.55 L482.1 819.74 L483.6 819.93 L485.1 820.11 L486.6 820.29 L488.1 820.47 L489.6 820.64 L491.1 820.81 L492.6 820.97 L494.1 821.14 L495.6 821.29 L497.1 821.45 L498.6 821.6 L500.1 821.75 L501.6 821.9 L503.1 822.04 L504.6 822.18 L506.1 822.32 L507.6 822.45 L509.1 822.58 L510.6 822.71 L512.1 822.84 L513.6 822.96 L515.1 823.08 L516.6 823.2 L518.1 823.32 L519.6 823.43 L521.1 823.54 L522.6 823.65 L524.1 823.76 L525.6 823.86 L527.1 823.96 L528.6 824.06 L530.1 824.16 L531.6 824.25 L533.1 824.35 L534.6 824.44 L536.1 824.53 L537.6 824.62 L539.1 824.7 L540.6 824.79 L542.1 824.87 L543.6 824.95 L545.1 825.03 L546.6 825.11 L548.1 825.18 L549.6 825.25 L551.1 825.33 L552.6 825.4 L554.1 825.47 L555.6 825.54 L557.1 825.6 L558.6 825.67 L560.1 825.73 L561.6 825.8 L563.1 825.86 L564.6 825.92 L566.1 825.98 L567.6 826.03 L569.1 826.09 L570.6 826.15 L572.1 826.2 L573.6 826.25 L575.1 826.31 L576.6 826.36 L578.1 826.41 L579.6 826.46 L581.1 826.51 L582.6 826.56 L584.1 826.6 L585.6 826.65 L587.1 826.69 L588.6 826.74 L590.1 826.78 L591.6 826.83 L593.1 826.87 L594.6 826.91 L596.1 826.95 L597.6 826.99 L599.1 827.03 L600.6 827.07 L602.1 827.11 L603.6 827.15 L605.1 827.18 L606.6 827.22 L608.1 827.26 L609.6 827.29 L611.1 827.33 L612.6 827.36 L614.1 827.4 L615.6 827.43 L617.1 827.47 L618.6 827.5 L620.1 827.53 L621.6 827.56 L623.1 827.6 L624.6 827.63 L626.1 827.66 L627.6 827.69 L629.1 827.72 L630.6 827.75 L632.1 827.78 L633.6 827.82 L635.1 827.85 L636.6 827.88 L638.1 827.91 L639.6 827.94 L641.1 827.96 L642.6 827.99 L644.1 828.02 L645.6 828.05 L647.1 828.08 L648.6 828.11 L650.1 828.14 L651.6 828.17 L653.1 828.2 L654.6 828.23 L656.1 828.26 L657.6 828.28 L659.1 828.31 L660.6 828.34 L662.1 828.37 L663.6 828.4 L665.1 828.43 L666.4 828.45" stroke-width="3.2"/>
</g>
<line x1="80" y1="497.47" x2="666.4" y2="497.47" stroke="#000" stroke-width="1.5"/>
<path d="M80 467.2H666.4V829.7H80ZM80 829.7h6.7M666.4 829.7h-6.7M80 811.58h4M666.4 811.58h-4M80 793.45h4M666.4 793.45h-4M80 775.33h4M666.4 775.33h-4M80 757.2h6.7M666.4 757.2h-6.7M80 739.08h4M666.4 739.08h-4M80 720.95h4M666.4 720.95h-4M80 702.83h4M666.4 702.83h-4M80 684.7h6.7M666.4 684.7h-6.7M80 666.58h4M666.4 666.58h-4M80 648.45h4M666.4 648.45h-4M80 630.33h4M666.4 630.33h-4M80 612.2h6.7M666.4 612.2h-6.7M80 594.08h4M666.4 594.08h-4M80 575.95h4M666.4 575.95h-4M80 557.83h4M666.4 557.83h-4M80 539.7h6.7M666.4 539.7h-6.7M80 521.58h4M666.4 521.58h-4M80 503.45h4M666.4 503.45h-4M80 485.32h4M666.4 485.32h-4M80 467.2h6.7M666.4 467.2h-6.7M80 829.7v-6.7M80 467.2v6.7M138.84 829.7v-4M138.84 467.2v4M173.26 829.7v-4M173.26 467.2v4M197.68 829.7v-4M197.68 467.2v4M216.63 829.7v-6.7M216.63 467.2v6.7M232.1 829.7v-4M232.1 467.2v4M245.19 829.7v-4M245.19 467.2v4M256.52 829.7v-4M256.52 467.2v4M266.52 829.7v-4M266.52 467.2v4M275.47 829.7v-6.7M275.47 467.2v6.7M334.31 829.7v-4M334.31 467.2v4M368.73 829.7v-4M368.73 467.2v4M393.15 829.7v-4M393.15 467.2v4M412.09 829.7v-6.7M412.09 467.2v6.7M427.57 829.7v-4M427.57 467.2v4M440.66 829.7v-4M440.66 467.2v4M451.99 829.7v-4M451.99 467.2v4M461.99 829.7v-4M461.99 467.2v4M470.93 829.7v-6.7M470.93 467.2v6.7M529.77 829.7v-4M529.77 467.2v4M564.19 829.7v-4M564.19 467.2v4M588.62 829.7v-4M588.62 467.2v4M607.56 829.7v-6.7M607.56 467.2v6.7M623.04 829.7v-4M623.04 467.2v4M636.12 829.7v-4M636.12 467.2v4M647.46 829.7v-4M647.46 467.2v4M657.46 829.7v-4M657.46 467.2v4" fill="none" stroke="#000" stroke-width="1.4"/>
<text transform="translate(73.9 838.2) scale(0.975 1)" text-anchor="end" font-size="23.6">0.0</text>
<text transform="translate(73.9 765.7) scale(0.975 1)" text-anchor="end" font-size="23.6">0.2</text>
<text transform="translate(73.9 693.2) scale(0.975 1)" text-anchor="end" font-size="23.6">0.4</text>
<text transform="translate(73.9 620.7) scale(0.975 1)" text-anchor="end" font-size="23.6">0.6</text>
<text transform="translate(73.9 548.2) scale(0.975 1)" text-anchor="end" font-size="23.6">0.8</text>
<text transform="translate(73.9 475.7) scale(0.975 1)" text-anchor="end" font-size="23.6">1.0</text>
<text transform="translate(80 856.7) scale(0.975 1)" text-anchor="middle" font-size="23.6">0.1</text>
<text transform="translate(216.63 856.7) scale(0.975 1)" text-anchor="middle" font-size="23.6">0.5</text>
<text transform="translate(275.47 856.7) scale(0.975 1)" text-anchor="middle" font-size="23.6">1</text>
<text transform="translate(412.09 856.7) scale(0.975 1)" text-anchor="middle" font-size="23.6">5</text>
<text transform="translate(470.93 856.7) scale(0.975 1)" text-anchor="middle" font-size="23.6">10</text>
<text transform="translate(607.56 856.7) scale(0.975 1)" text-anchor="middle" font-size="23.6">50</text>
<text transform="translate(667.6 856.7) scale(0.975 1)" text-anchor="middle" font-size="23.6">100</text>
<text transform="translate(22.6 649.05) rotate(-90) scale(0.9 1)" text-anchor="middle" font-size="30.2">a</text>
<text transform="translate(373.6 901.2) scale(1.05 1)" text-anchor="middle" font-size="30" font-style="italic">α</text>
<line x1="415.8" y1="678.1" x2="486.3" y2="678.1" stroke="#0000ff" stroke-width="3.2" stroke-dasharray="8.5 6.95"/>
<text transform="translate(502.8 684.7) scale(0.972 1)" text-anchor="start" font-size="23.5">Q=0.4 <tspan font-style="italic">m</tspan><tspan font-size="16.6" dy="4.6">Φ</tspan><tspan dy="-4.6">=0.5</tspan></text>
<line x1="415.85" y1="720.8" x2="487.8" y2="720.8" stroke="#0000ff" stroke-width="3.5" stroke-dasharray="2.3 7.33"/>
<text transform="translate(502.8 727.3) scale(0.972 1)" text-anchor="start" font-size="23.5">Q=0.4 <tspan font-style="italic">m</tspan><tspan font-size="16.6" dy="4.6">Φ</tspan><tspan dy="-4.6">=0.25</tspan></text>
<line x1="415.2" y1="762.5" x2="491" y2="762.5" stroke="#0000ff" stroke-width="3.2"/>
<text transform="translate(502.8 769.3) scale(0.972 1)" text-anchor="start" font-size="23.5">Q=0.4 <tspan font-style="italic">m</tspan><tspan font-size="16.6" dy="4.6">Φ</tspan><tspan dy="-4.6">=0</tspan></text>
<clipPath id="c08"><rect x="73" y="925.9" width="586.5" height="362.2"/></clipPath>
<g fill="none" stroke="#00ff00" stroke-linejoin="round" clip-path="url(#c08)">
<path d="M193.9 1072.65 L195.4 1074.2 L196.9 1075.8 L198.4 1077.43 L199.9 1079.1 L201.4 1080.81 L202.9 1082.56 L204.4 1084.34 L205.9 1086.15 L207.4 1087.99 L208.9 1089.87 L210.4 1091.77 L211.9 1093.71 L213.4 1095.66 L214.9 1097.65 L216.4 1099.65 L217.9 1101.68 L219.4 1103.73 L220.9 1105.8 L222.4 1107.88 L223.9 1109.98 L225.4 1112.09 L226.9 1114.21 L228.4 1116.35 L229.9 1118.49 L231.4 1120.64 L232.9 1122.8 L234.4 1124.96 L235.9 1127.12 L237.4 1129.28 L238.9 1131.44 L240.4 1133.6 L241.9 1135.76 L243.4 1137.91 L244.9 1140.06 L246.4 1142.2 L247.9 1144.33 L249.4 1146.45 L250.9 1148.56 L252.4 1150.66 L253.9 1152.74 L255.4 1154.81 L256.9 1156.87 L258.4 1158.91 L259.9 1160.93 L261.4 1162.93 L262.9 1164.91 L264.4 1166.88 L265.9 1168.83 L267.4 1170.75 L268.9 1172.65 L270.4 1174.54 L271.9 1176.4 L273.4 1178.24 L274.9 1180.05 L276.4 1181.85 L277.9 1183.62 L279.4 1185.36 L280.9 1187.09 L282.4 1188.79 L283.9 1190.47 L285.4 1192.12 L286.9 1193.75 L288.4 1195.35 L289.9 1196.93 L291.4 1198.49 L292.9 1200.02 L294.4 1201.53 L295.9 1203.02 L297.4 1204.48 L298.9 1205.92 L300.4 1207.33 L301.9 1208.73 L303.4 1210.09 L304.9 1211.44 L306.4 1212.76 L307.9 1214.06 L309.4 1215.34 L310.9 1216.6 L312.4 1217.83 L313.9 1219.05 L315.4 1220.24 L316.9 1221.41 L318.4 1222.57 L319.9 1223.7 L321.4 1224.81 L322.9 1225.91 L324.4 1226.99 L325.9 1228.05 L327.4 1229.09 L328.9 1230.11 L330.4 1231.12 L331.9 1232.11 L333.4 1233.09 L334.9 1234.05 L336.4 1234.99 L337.9 1235.92 L339.4 1236.84 L340.9 1237.74 L342.4 1238.62 L343.9 1239.5 L345.4 1240.36 L346.9 1241.21 L348.4 1242.04 L349.9 1242.86 L351.4 1243.67 L352.9 1244.47 L354.4 1245.25 L355.9 1246.02 L357.4 1246.78 L358.9 1247.52 L360.4 1248.26 L361.9 1248.98 L363.4 1249.69 L364.9 1250.39 L366.4 1251.08 L367.9 1251.76 L369.4 1252.42 L370.9 1253.08 L372.4 1253.72 L373.9 1254.35 L375.4 1254.97 L376.9 1255.59 L378.4 1256.19 L379.9 1256.78 L381.4 1257.36 L382.9 1257.93 L384.4 1258.49 L385.9 1259.04 L387.4 1259.58 L388.9 1260.11 L390.4 1260.63 L391.9 1261.14 L393.4 1261.64 L394.9 1262.13 L396.4 1262.61 L397.9 1263.08 L399.4 1263.55 L400.9 1264 L402.4 1264.44 L403.9 1264.88 L405.4 1265.3 L406.9 1265.72 L408.4 1266.13 L409.9 1266.52 L411.4 1266.91 L412.9 1267.3 L414.4 1267.67 L415.9 1268.04 L417.4 1268.39 L418.9 1268.74 L420.4 1269.09 L421.9 1269.42 L423.4 1269.75 L424.9 1270.07 L426.4 1270.39 L427.9 1270.69 L429.4 1271 L430.9 1271.29 L432.4 1271.58 L433.9 1271.86 L435.4 1272.14 L436.9 1272.41 L438.4 1272.68 L439.9 1272.94 L441.4 1273.19 L442.9 1273.44 L444.4 1273.69 L445.9 1273.93 L447.4 1274.16 L448.9 1274.39 L450.4 1274.62 L451.9 1274.84 L453.4 1275.06 L454.9 1275.27 L456.4 1275.48 L457.9 1275.69 L459.4 1275.89 L460.9 1276.09 L462.4 1276.29 L463.9 1276.48 L465.4 1276.67 L466.9 1276.85 L468.4 1277.03 L469.9 1277.21 L471.4 1277.38 L472.9 1277.56 L474.4 1277.72 L475.9 1277.89 L477.4 1278.05 L478.9 1278.21 L480.4 1278.37 L481.9 1278.52 L483.4 1278.67 L484.9 1278.82 L486.4 1278.96 L487.9 1279.1 L489.4 1279.24 L490.9 1279.38 L492.4 1279.52 L493.9 1279.65 L495.4 1279.78 L496.9 1279.91 L498.4 1280.03 L499.9 1280.15 L501.4 1280.27 L502.9 1280.39 L504.4 1280.51 L505.9 1280.62 L507.4 1280.73 L508.9 1280.84 L510.4 1280.95 L511.9 1281.06 L513.4 1281.16 L514.9 1281.26 L516.4 1281.36 L517.9 1281.46 L519.4 1281.56 L520.9 1281.65 L522.4 1281.75 L523.9 1281.84 L525.4 1281.93 L526.9 1282.02 L528.4 1282.1 L529.9 1282.19 L531.4 1282.27 L532.9 1282.35 L534.4 1282.44 L535.9 1282.51 L537.4 1282.59 L538.9 1282.67 L540.4 1282.74 L541.9 1282.82 L543.4 1282.89 L544.9 1282.96 L546.4 1283.03 L547.9 1283.1 L549.4 1283.17 L550.9 1283.23 L552.4 1283.3 L553.9 1283.36 L555.4 1283.43 L556.9 1283.49 L558.4 1283.55 L559.9 1283.61 L561.4 1283.67 L562.9 1283.72 L564.4 1283.78 L565.9 1283.84 L567.4 1283.89 L568.9 1283.94 L570.4 1284 L571.9 1284.05 L573.4 1284.1 L574.9 1284.15 L576.4 1284.2 L577.9 1284.25 L579.4 1284.3 L580.9 1284.34 L582.4 1284.39 L583.9 1284.44 L585.4 1284.48 L586.9 1284.52 L588.4 1284.57 L589.9 1284.61 L591.4 1284.65 L592.9 1284.69 L594.4 1284.73 L595.9 1284.77 L597.4 1284.81 L598.9 1284.85 L600.4 1284.89 L601.9 1284.93 L603.4 1284.97 L604.9 1285 L606.4 1285.04 L607.9 1285.07 L609.4 1285.11 L610.9 1285.14 L612.4 1285.17 L613.9 1285.21 L615.4 1285.24 L616.9 1285.27 L618.4 1285.3 L619.9 1285.34 L621.4 1285.37 L622.9 1285.4 L624.4 1285.43 L625.9 1285.45 L627.4 1285.48 L628.9 1285.51 L630.4 1285.54 L631.9 1285.57 L633.4 1285.59 L634.9 1285.62 L636.4 1285.65 L637.9 1285.67 L639.4 1285.7 L640.9 1285.72 L642.4 1285.75 L643.9 1285.77 L645.4 1285.79 L646.9 1285.82 L648.4 1285.84 L649.9 1285.86 L651.4 1285.88 L652.9 1285.91 L654.4 1285.93 L655.9 1285.95 L657.4 1285.97 L658.9 1285.99 L659.5 1286" stroke-width="3.4" stroke-dasharray="8.2 6.2"/>
<path d="M175.7 1076.31 L177.2 1077.94 L178.7 1079.61 L180.2 1081.34 L181.7 1083.11 L183.2 1084.92 L184.7 1086.77 L186.2 1088.66 L187.7 1090.59 L189.2 1092.55 L190.7 1094.54 L192.2 1096.56 L193.7 1098.61 L195.2 1100.68 L196.7 1102.77 L198.2 1104.88 L199.7 1107.01 L201.2 1109.15 L202.7 1111.3 L204.2 1113.47 L205.7 1115.64 L207.2 1117.81 L208.7 1119.99 L210.2 1122.17 L211.7 1124.35 L213.2 1126.52 L214.7 1128.68 L216.2 1130.84 L217.7 1132.99 L219.2 1135.14 L220.7 1137.27 L222.2 1139.39 L223.7 1141.5 L225.2 1143.6 L226.7 1145.69 L228.2 1147.76 L229.7 1149.82 L231.2 1151.86 L232.7 1153.89 L234.2 1155.9 L235.7 1157.9 L237.2 1159.87 L238.7 1161.83 L240.2 1163.77 L241.7 1165.7 L243.2 1167.6 L244.7 1169.49 L246.2 1171.36 L247.7 1173.2 L249.2 1175.03 L250.7 1176.83 L252.2 1178.62 L253.7 1180.38 L255.2 1182.13 L256.7 1183.85 L258.2 1185.55 L259.7 1187.23 L261.2 1188.89 L262.7 1190.53 L264.2 1192.14 L265.7 1193.73 L267.2 1195.3 L268.7 1196.85 L270.2 1198.38 L271.7 1199.89 L273.2 1201.38 L274.7 1202.84 L276.2 1204.28 L277.7 1205.71 L279.2 1207.11 L280.7 1208.49 L282.2 1209.85 L283.7 1211.19 L285.2 1212.5 L286.7 1213.8 L288.2 1215.08 L289.7 1216.34 L291.2 1217.58 L292.7 1218.8 L294.2 1220 L295.7 1221.18 L297.2 1222.35 L298.7 1223.49 L300.2 1224.62 L301.7 1225.73 L303.2 1226.82 L304.7 1227.89 L306.2 1228.95 L307.7 1229.98 L309.2 1231.01 L310.7 1232.01 L312.2 1233 L313.7 1233.97 L315.2 1234.93 L316.7 1235.87 L318.2 1236.79 L319.7 1237.7 L321.2 1238.59 L322.7 1239.47 L324.2 1240.34 L325.7 1241.19 L327.2 1242.02 L328.7 1242.84 L330.2 1243.65 L331.7 1244.45 L333.2 1245.23 L334.7 1245.99 L336.2 1246.75 L337.7 1247.49 L339.2 1248.22 L340.7 1248.93 L342.2 1249.64 L343.7 1250.33 L345.2 1251.01 L346.7 1251.68 L348.2 1252.33 L349.7 1252.98 L351.2 1253.61 L352.7 1254.23 L354.2 1254.85 L355.7 1255.45 L357.2 1256.04 L358.7 1256.62 L360.2 1257.19 L361.7 1257.75 L363.2 1258.3 L364.7 1258.84 L366.2 1259.37 L367.7 1259.9 L369.2 1260.41 L370.7 1260.91 L372.2 1261.41 L373.7 1261.89 L375.2 1262.37 L376.7 1262.84 L378.2 1263.3 L379.7 1263.75 L381.2 1264.2 L382.7 1264.63 L384.2 1265.06 L385.7 1265.48 L387.2 1265.89 L388.7 1266.3 L390.2 1266.7 L391.7 1267.09 L393.2 1267.47 L394.7 1267.85 L396.2 1268.22 L397.7 1268.58 L399.2 1268.94 L400.7 1269.29 L402.2 1269.63 L403.7 1269.97 L405.2 1270.3 L406.7 1270.62 L408.2 1270.94 L409.7 1271.25 L411.2 1271.56 L412.7 1271.86 L414.2 1272.15 L415.7 1272.44 L417.2 1272.73 L418.7 1273.01 L420.2 1273.28 L421.7 1273.55 L423.2 1273.81 L424.7 1274.07 L426.2 1274.33 L427.7 1274.57 L429.2 1274.82 L430.7 1275.06 L432.2 1275.29 L433.7 1275.52 L435.2 1275.75 L436.7 1275.97 L438.2 1276.19 L439.7 1276.4 L441.2 1276.61 L442.7 1276.81 L444.2 1277.01 L445.7 1277.21 L447.2 1277.4 L448.7 1277.59 L450.2 1277.78 L451.7 1277.96 L453.2 1278.14 L454.7 1278.31 L456.2 1278.48 L457.7 1278.65 L459.2 1278.82 L460.7 1278.98 L462.2 1279.14 L463.7 1279.29 L465.2 1279.44 L466.7 1279.59 L468.2 1279.74 L469.7 1279.88 L471.2 1280.02 L472.7 1280.16 L474.2 1280.29 L475.7 1280.42 L477.2 1280.55 L478.7 1280.68 L480.2 1280.8 L481.7 1280.93 L483.2 1281.04 L484.7 1281.16 L486.2 1281.28 L487.7 1281.39 L489.2 1281.5 L490.7 1281.6 L492.2 1281.71 L493.7 1281.81 L495.2 1281.91 L496.7 1282.01 L498.2 1282.11 L499.7 1282.2 L501.2 1282.3 L502.7 1282.39 L504.2 1282.48 L505.7 1282.57 L507.2 1282.65 L508.7 1282.74 L510.2 1282.82 L511.7 1282.9 L513.2 1282.98 L514.7 1283.05 L516.2 1283.13 L517.7 1283.2 L519.2 1283.28 L520.7 1283.35 L522.2 1283.42 L523.7 1283.49 L525.2 1283.55 L526.7 1283.62 L528.2 1283.68 L529.7 1283.74 L531.2 1283.81 L532.7 1283.87 L534.2 1283.92 L535.7 1283.98 L537.2 1284.04 L538.7 1284.09 L540.2 1284.15 L541.7 1284.2 L543.2 1284.25 L544.7 1284.3 L546.2 1284.35 L547.7 1284.4 L549.2 1284.45 L550.7 1284.5 L552.2 1284.54 L553.7 1284.59 L555.2 1284.63 L556.7 1284.68 L558.2 1284.72 L559.7 1284.76 L561.2 1284.8 L562.7 1284.84 L564.2 1284.88 L565.7 1284.92 L567.2 1284.95 L568.7 1284.99 L570.2 1285.02 L571.7 1285.06 L573.2 1285.09 L574.7 1285.13 L576.2 1285.16 L577.7 1285.19 L579.2 1285.22 L580.7 1285.25 L582.2 1285.28 L583.7 1285.31 L585.2 1285.34 L586.7 1285.37 L588.2 1285.4 L589.7 1285.43 L591.2 1285.45 L592.7 1285.48 L594.2 1285.51 L595.7 1285.53 L597.2 1285.55 L598.7 1285.58 L600.2 1285.6 L601.7 1285.63 L603.2 1285.65 L604.7 1285.67 L606.2 1285.69 L607.7 1285.71 L609.2 1285.73 L610.7 1285.75 L612.2 1285.77 L613.7 1285.79 L615.2 1285.81 L616.7 1285.83 L618.2 1285.85 L619.7 1285.87 L621.2 1285.89 L622.7 1285.9 L624.2 1285.92 L625.7 1285.94 L627.2 1285.95 L628.7 1285.97 L630.2 1285.98 L631.7 1286 L633.2 1286.01 L634.7 1286.03 L636.2 1286.04 L637.7 1286.06 L639.2 1286.07 L640.7 1286.08 L642.2 1286.1 L643.7 1286.11 L645.2 1286.12 L646.7 1286.13 L648.2 1286.15 L649.7 1286.16 L651.2 1286.17 L652.7 1286.18 L654.2 1286.19 L655.7 1286.2 L657.2 1286.21 L658.7 1286.22 L659.5 1286.23" stroke-width="3.6" stroke-dasharray="2.0 7.6"/>
<path d="M148.4 1070.78 L149.9 1070.78 L151.4 1070.78 L152.9 1070.78 L154.4 1070.9 L155.9 1071.05 L157.4 1071.35 L158.9 1071.94 L160.4 1072.91 L161.9 1074.27 L163.4 1075.91 L164.9 1077.72 L166.4 1079.62 L167.9 1081.58 L169.4 1083.57 L170.9 1085.59 L172.4 1087.63 L173.9 1089.69 L175.4 1091.77 L176.9 1093.86 L178.4 1095.97 L179.9 1098.1 L181.4 1100.23 L182.9 1102.37 L184.4 1104.53 L185.9 1106.69 L187.4 1108.85 L188.9 1111.02 L190.4 1113.2 L191.9 1115.37 L193.4 1117.55 L194.9 1119.72 L196.4 1121.89 L197.9 1124.06 L199.4 1126.22 L200.9 1128.38 L202.4 1130.53 L203.9 1132.67 L205.4 1134.8 L206.9 1136.93 L208.4 1139.04 L209.9 1141.14 L211.4 1143.23 L212.9 1145.3 L214.4 1147.36 L215.9 1149.41 L217.4 1151.44 L218.9 1153.46 L220.4 1155.46 L221.9 1157.45 L223.4 1159.42 L224.9 1161.37 L226.4 1163.31 L227.9 1165.22 L229.4 1167.13 L230.9 1169.01 L232.4 1170.87 L233.9 1172.72 L235.4 1174.54 L236.9 1176.35 L238.4 1178.13 L239.9 1179.9 L241.4 1181.64 L242.9 1183.36 L244.4 1185.06 L245.9 1186.74 L247.4 1188.39 L248.9 1190.02 L250.4 1191.64 L251.9 1193.22 L253.4 1194.79 L254.9 1196.33 L256.4 1197.85 L257.9 1199.34 L259.4 1200.82 L260.9 1202.27 L262.4 1203.69 L263.9 1205.09 L265.4 1206.47 L266.9 1207.83 L268.4 1209.16 L269.9 1210.47 L271.4 1211.76 L272.9 1213.03 L274.4 1214.28 L275.9 1215.5 L277.4 1216.7 L278.9 1217.89 L280.4 1219.05 L281.9 1220.19 L283.4 1221.31 L284.9 1222.41 L286.4 1223.49 L287.9 1224.56 L289.4 1225.6 L290.9 1226.63 L292.4 1227.64 L293.9 1228.63 L295.4 1229.6 L296.9 1230.56 L298.4 1231.5 L299.9 1232.43 L301.4 1233.34 L302.9 1234.24 L304.4 1235.12 L305.9 1235.99 L307.4 1236.84 L308.9 1237.68 L310.4 1238.51 L311.9 1239.32 L313.4 1240.13 L314.9 1240.92 L316.4 1241.69 L317.9 1242.46 L319.4 1243.22 L320.9 1243.96 L322.4 1244.7 L323.9 1245.43 L325.4 1246.14 L326.9 1246.85 L328.4 1247.54 L329.9 1248.23 L331.4 1248.91 L332.9 1249.58 L334.4 1250.24 L335.9 1250.89 L337.4 1251.53 L338.9 1252.17 L340.4 1252.79 L341.9 1253.41 L343.4 1254.02 L344.9 1254.62 L346.4 1255.21 L347.9 1255.79 L349.4 1256.37 L350.9 1256.94 L352.4 1257.5 L353.9 1258.05 L355.4 1258.59 L356.9 1259.13 L358.4 1259.66 L359.9 1260.18 L361.4 1260.7 L362.9 1261.21 L364.4 1261.71 L365.9 1262.2 L367.4 1262.68 L368.9 1263.16 L370.4 1263.63 L371.9 1264.1 L373.4 1264.56 L374.9 1265.01 L376.4 1265.45 L377.9 1265.89 L379.4 1266.32 L380.9 1266.74 L382.4 1267.16 L383.9 1267.57 L385.4 1267.98 L386.9 1268.38 L388.4 1268.77 L389.9 1269.15 L391.4 1269.53 L392.9 1269.91 L394.4 1270.27 L395.9 1270.64 L397.4 1270.99 L398.9 1271.34 L400.4 1271.68 L401.9 1272.02 L403.4 1272.35 L404.9 1272.67 L406.4 1272.99 L407.9 1273.31 L409.4 1273.61 L410.9 1273.91 L412.4 1274.21 L413.9 1274.5 L415.4 1274.79 L416.9 1275.06 L418.4 1275.34 L419.9 1275.61 L421.4 1275.87 L422.9 1276.12 L424.4 1276.38 L425.9 1276.62 L427.4 1276.86 L428.9 1277.1 L430.4 1277.33 L431.9 1277.55 L433.4 1277.77 L434.9 1277.98 L436.4 1278.19 L437.9 1278.4 L439.4 1278.6 L440.9 1278.79 L442.4 1278.98 L443.9 1279.16 L445.4 1279.35 L446.9 1279.52 L448.4 1279.69 L449.9 1279.86 L451.4 1280.02 L452.9 1280.18 L454.4 1280.34 L455.9 1280.49 L457.4 1280.63 L458.9 1280.78 L460.4 1280.92 L461.9 1281.05 L463.4 1281.18 L464.9 1281.31 L466.4 1281.43 L467.9 1281.56 L469.4 1281.67 L470.9 1281.79 L472.4 1281.9 L473.9 1282.01 L475.4 1282.11 L476.9 1282.21 L478.4 1282.31 L479.9 1282.41 L481.4 1282.5 L482.9 1282.59 L484.4 1282.68 L485.9 1282.76 L487.4 1282.85 L488.9 1282.93 L490.4 1283 L491.9 1283.08 L493.4 1283.15 L494.9 1283.22 L496.4 1283.29 L497.9 1283.35 L499.4 1283.42 L500.9 1283.48 L502.4 1283.54 L503.9 1283.6 L505.4 1283.65 L506.9 1283.71 L508.4 1283.76 L509.9 1283.81 L511.4 1283.86 L512.9 1283.9 L514.4 1283.95 L515.9 1283.99 L517.4 1284.03 L518.9 1284.07 L520.4 1284.11 L521.9 1284.15 L523.4 1284.19 L524.9 1284.22 L526.4 1284.26 L527.9 1284.29 L529.4 1284.32 L530.9 1284.35 L532.4 1284.38 L533.9 1284.41 L535.4 1284.44 L536.9 1284.47 L538.4 1284.49 L539.9 1284.52 L541.4 1284.54 L542.9 1284.57 L544.4 1284.59 L545.9 1284.61 L547.4 1284.63 L548.9 1284.65 L550.4 1284.67 L551.9 1284.69 L553.4 1284.71 L554.9 1284.73 L556.4 1284.75 L557.9 1284.77 L559.4 1284.79 L560.9 1284.8 L562.4 1284.82 L563.9 1284.84 L565.4 1284.85 L566.9 1284.87 L568.4 1284.89 L569.9 1284.9 L571.4 1284.92 L572.9 1284.94 L574.4 1284.95 L575.9 1284.97 L577.4 1284.98 L578.9 1285 L580.4 1285.02 L581.9 1285.03 L583.4 1285.05 L584.9 1285.07 L586.4 1285.08 L587.9 1285.1 L589.4 1285.12 L590.9 1285.14 L592.4 1285.15 L593.9 1285.17 L595.4 1285.19 L596.9 1285.21 L598.4 1285.23 L599.9 1285.25 L601.4 1285.27 L602.9 1285.29 L604.4 1285.31 L605.9 1285.34 L607.4 1285.36 L608.9 1285.38 L610.4 1285.41 L611.9 1285.43 L613.4 1285.46 L614.9 1285.48 L616.4 1285.51 L617.9 1285.54 L619.4 1285.56 L620.9 1285.59 L622.4 1285.62 L623.9 1285.65 L625.4 1285.68 L626.9 1285.72 L628.4 1285.75 L629.9 1285.78 L631.4 1285.82 L632.9 1285.85 L634.4 1285.89 L635.9 1285.93 L637.4 1285.97 L638.9 1286.01 L640.4 1286.05 L641.9 1286.09 L643.4 1286.13 L644.9 1286.17 L646.4 1286.22 L647.9 1286.26 L649.4 1286.31 L650.9 1286.36 L652.4 1286.41 L653.9 1286.46 L655.4 1286.51 L656.9 1286.56 L658.4 1286.61 L659.5 1286.65" stroke-width="3.2"/>
</g>
<line x1="73" y1="1070.78" x2="659.5" y2="1070.78" stroke="#000" stroke-width="1.5"/>
<path d="M73 925.9H659.5V1288.1H73ZM73 1288.1h6.7M659.5 1288.1h-6.7M73 1269.99h4M659.5 1269.99h-4M73 1251.88h4M659.5 1251.88h-4M73 1233.77h4M659.5 1233.77h-4M73 1215.66h6.7M659.5 1215.66h-6.7M73 1197.55h4M659.5 1197.55h-4M73 1179.44h4M659.5 1179.44h-4M73 1161.33h4M659.5 1161.33h-4M73 1143.22h6.7M659.5 1143.22h-6.7M73 1125.11h4M659.5 1125.11h-4M73 1107h4M659.5 1107h-4M73 1088.89h4M659.5 1088.89h-4M73 1070.78h6.7M659.5 1070.78h-6.7M73 1052.67h4M659.5 1052.67h-4M73 1034.56h4M659.5 1034.56h-4M73 1016.45h4M659.5 1016.45h-4M73 998.34h6.7M659.5 998.34h-6.7M73 980.23h4M659.5 980.23h-4M73 962.12h4M659.5 962.12h-4M73 944.01h4M659.5 944.01h-4M73 925.9h6.7M659.5 925.9h-6.7M73 1288.1v-6.7M73 925.9v6.7M131.85 1288.1v-4M131.85 925.9v4M166.28 1288.1v-4M166.28 925.9v4M190.7 1288.1v-4M190.7 925.9v4M209.65 1288.1v-6.7M209.65 925.9v6.7M225.13 1288.1v-4M225.13 925.9v4M238.22 1288.1v-4M238.22 925.9v4M249.55 1288.1v-4M249.55 925.9v4M259.55 1288.1v-4M259.55 925.9v4M268.5 1288.1v-6.7M268.5 925.9v6.7M327.35 1288.1v-4M327.35 925.9v4M361.78 1288.1v-4M361.78 925.9v4M386.2 1288.1v-4M386.2 925.9v4M405.15 1288.1v-6.7M405.15 925.9v6.7M420.63 1288.1v-4M420.63 925.9v4M433.72 1288.1v-4M433.72 925.9v4M445.05 1288.1v-4M445.05 925.9v4M455.05 1288.1v-4M455.05 925.9v4M464 1288.1v-6.7M464 925.9v6.7M522.85 1288.1v-4M522.85 925.9v4M557.28 1288.1v-4M557.28 925.9v4M581.7 1288.1v-4M581.7 925.9v4M600.65 1288.1v-6.7M600.65 925.9v6.7M616.13 1288.1v-4M616.13 925.9v4M629.22 1288.1v-4M629.22 925.9v4M640.55 1288.1v-4M640.55 925.9v4M650.55 1288.1v-4M650.55 925.9v4" fill="none" stroke="#000" stroke-width="1.4"/>
<text transform="translate(66.9 1296.6) scale(0.975 1)" text-anchor="end" font-size="23.6">0.0</text>
<text transform="translate(66.9 1224.16) scale(0.975 1)" text-anchor="end" font-size="23.6">0.2</text>
<text transform="translate(66.9 1151.72) scale(0.975 1)" text-anchor="end" font-size="23.6">0.4</text>
<text transform="translate(66.9 1079.28) scale(0.975 1)" text-anchor="end" font-size="23.6">0.6</text>
<text transform="translate(66.9 1006.84) scale(0.975 1)" text-anchor="end" font-size="23.6">0.8</text>
<text transform="translate(66.9 934.4) scale(0.975 1)" text-anchor="end" font-size="23.6">1.0</text>
<text transform="translate(73 1315.1) scale(0.975 1)" text-anchor="middle" font-size="23.6">0.1</text>
<text transform="translate(209.65 1315.1) scale(0.975 1)" text-anchor="middle" font-size="23.6">0.5</text>
<text transform="translate(268.5 1315.1) scale(0.975 1)" text-anchor="middle" font-size="23.6">1</text>
<text transform="translate(405.15 1315.1) scale(0.975 1)" text-anchor="middle" font-size="23.6">5</text>
<text transform="translate(464 1315.1) scale(0.975 1)" text-anchor="middle" font-size="23.6">10</text>
<text transform="translate(600.65 1315.1) scale(0.975 1)" text-anchor="middle" font-size="23.6">50</text>
<text transform="translate(660 1315.1) scale(0.975 1)" text-anchor="middle" font-size="23.6">100</text>
<text transform="translate(15.6 1107.6) rotate(-90) scale(0.9 1)" text-anchor="middle" font-size="30.2">a</text>
<text transform="translate(366.65 1359.6) scale(1.05 1)" text-anchor="middle" font-size="30" font-style="italic">α</text>
<line x1="409" y1="1136.5" x2="479.5" y2="1136.5" stroke="#00ff00" stroke-width="3.2" stroke-dasharray="8.5 6.95"/>
<text transform="translate(496 1143.1) scale(0.972 1)" text-anchor="start" font-size="23.5">Q=0.8 <tspan font-style="italic">m</tspan><tspan font-size="16.6" dy="4.6">Φ</tspan><tspan dy="-4.6">=0.5</tspan></text>
<line x1="409.05" y1="1179.2" x2="481" y2="1179.2" stroke="#00ff00" stroke-width="3.5" stroke-dasharray="2.3 7.33"/>
<text transform="translate(496 1185.7) scale(0.972 1)" text-anchor="start" font-size="23.5">Q=0.8 <tspan font-style="italic">m</tspan><tspan font-size="16.6" dy="4.6">Φ</tspan><tspan dy="-4.6">=0.25</tspan></text>
<line x1="408.4" y1="1220.9" x2="484.2" y2="1220.9" stroke="#00ff00" stroke-width="3.2"/>
<text transform="translate(496 1227.7) scale(0.972 1)" text-anchor="start" font-size="23.5">Q=0.8 <tspan font-style="italic">m</tspan><tspan font-size="16.6" dy="4.6">Φ</tspan><tspan dy="-4.6">=0</tspan></text>
</svg>
</body></html>
